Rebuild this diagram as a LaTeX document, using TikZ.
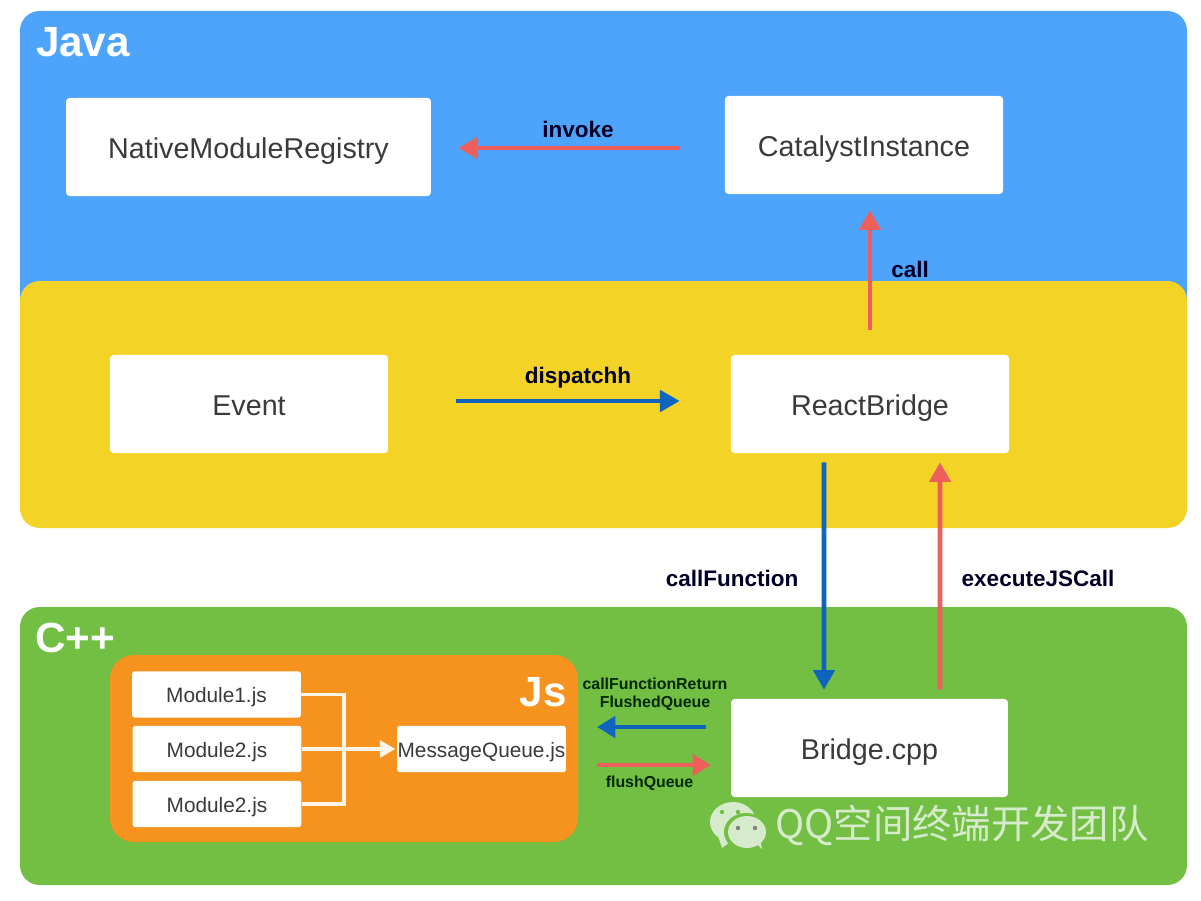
\documentclass[tikz,border=0pt]{standalone}
\usepackage{fontspec}
\setmainfont{Liberation Sans}
\newfontfamily\cjkfont{Noto Sans CJK SC}
\usetikzlibrary{arrows.meta}

\definecolor{javablue}{HTML}{4DA4FA}
\definecolor{bridgeyellow}{HTML}{F4D327}
\definecolor{cppgreen}{HTML}{72BF44}
\definecolor{jsorange}{HTML}{F6921E}
\definecolor{redline}{HTML}{EE5F5B}
\definecolor{blueline}{HTML}{0F65BE}
\definecolor{boxtext}{HTML}{3A3A3A}
\definecolor{markgreen}{HTML}{D6EBCB}

\tikzset{
	panel/.style = {rounded corners=14pt},
	bigbox/.style = {fill=white, rounded corners=2.5pt, inner sep=0pt, text=boxtext, font=\fontsize{20.4}{24}\selectfont, minimum height=2.45cm, text height=17pt, text depth=0pt},
	smallbox/.style = {fill=white, rounded corners=2pt, inner sep=0pt, text=boxtext, font=\fontsize{14.8}{17}\selectfont, minimum width=4.22cm, minimum height=1.16cm, text height=11.5pt, text depth=0pt},
	redarrow/.style = {->, redline, line width=3.3pt},
	bluearrow/.style = {->, blueline, line width=3.3pt},
	whiteline/.style = {draw=white!90!jsorange, line width=2.4pt},
	heading/.style = {white, font=\fontsize{30}{32}\selectfont\bfseries},
	arrowlabel/.style = {text=black!85!blue, font=\fontsize{16}{18}\selectfont\bfseries},
	tinylabel/.style = {text=black!85!green, font=\fontsize{11.3}{12.8}\selectfont\bfseries, align=center},
	>={Triangle[length=14pt,width=15pt]}
}

\begin{document}
\begin{tikzpicture}[x=0.025cm, y=-0.025cm]
	\useasboundingbox (0, 0) rectangle (1201, 900);
	\fill [white] (0, 0) rectangle (1201, 900);
	% panels
	\fill [panel, javablue] (20, 11) rectangle (1187, 320);
	\fill [panel, cppgreen] (20, 607) rectangle (1187, 885);
	\fill [panel, bridgeyellow] (20, 281) rectangle (1187, 528);
	\fill [jsorange, rounded corners=17pt] (110, 655) rectangle (578, 842);
	\node (java) at (83, 42) [heading] {Java};
	\node (cpp) at (75, 638) [heading] {C++};
	\node (js) at (543, 692) [heading] {Js};
	% boxes
	\node (registry) at (248.5, 147) [bigbox, minimum width=9.12cm] {NativeModuleRegistry};
	\node (catalyst) at (864, 145) [bigbox, minimum width=6.95cm] {CatalystInstance};
	\node (event) at (249, 404) [bigbox, minimum width=6.95cm] {Event};
	\node (reactbridge) at (870, 404) [bigbox, minimum width=6.95cm] {ReactBridge};
	\node (bridge) at (869.5, 748) [bigbox, minimum width=6.92cm] {Bridge.cpp};
	\node (moduleA) at (216.5, 694.5) [smallbox] {Module1.js};
	\node (moduleB) at (217, 749) [smallbox] {Module2.js};
	\node (moduleC) at (217, 804) [smallbox] {Module2.js};
	\node (queue) at (481.5, 749) [smallbox] {MessageQueue.js};
	% connectors
	\coordinate (joint) at (344, 749);
	\draw [whiteline] (moduleA.east) -| (joint);
	\draw [whiteline] (moduleC.east) -| (joint);
	\draw [whiteline, ->, >={Triangle[length=11pt,width=12pt]}, shorten >=1pt] (moduleB.east) -- (queue.west);
	\draw [redarrow, shorten <=1.125cm, shorten >=0.675cm] ([yshift=-0.025cm]catalyst.west |- registry.east) -- ([yshift=-0.025cm]registry.east);
	\draw [redarrow, shorten <=0.625cm, shorten >=0.4cm] (reactbridge.north) -- (reactbridge.north |- catalyst.south);
	\draw [bluearrow, shorten <=1.7cm, shorten >=1.275cm] ([yshift=0.075cm]event.east) -- ([yshift=0.075cm]reactbridge.west);
	\draw [bluearrow, shorten <=0.225cm, shorten >=0.225cm] ([xshift=-1.15cm]reactbridge.south) -- ([xshift=-1.137cm]bridge.north);
	\draw [redarrow, shorten <=0.225cm, shorten >=0.225cm] ([xshift=1.763cm]bridge.north) -- ([xshift=1.75cm]reactbridge.south);
	\coordinate (jsedge) at (578, 727);
	\draw [bluearrow, line width=3pt, >={Triangle[length=13pt,width=15pt]}, shorten <=0.625cm, shorten >=0.475cm] (jsedge -| bridge.west) -- (jsedge);
	\coordinate (flushedge) at (578, 765);
	\draw [redarrow, line width=3pt, >={Triangle[length=13pt,width=15pt]}, shorten <=0.475cm, shorten >=0.5cm] (flushedge) -- (flushedge -| bridge.west);
	% labels
	\node (invoke) at (578, 129) [arrowlabel] {invoke};
	\node (call) at (910, 269) [arrowlabel] {call};
	\node (dispatch) at (578, 378) [arrowlabel] {dispatchh};
	\node (callfn) at (732, 578) [arrowlabel] {callFunction};
	\node (execjs) at (1038, 578) [arrowlabel] {executeJSCall};
	\node (returnlabel) at (655, 694) [tinylabel] {callFunctionReturn\\FlushedQueue};
	\node (flushlabel) at (649.5, 783) [tinylabel] {flushQueue};
	% watermark
	\fill [markgreen] (733, 822) ellipse (23 and 20);
	\fill [markgreen] (718, 836) -- (722, 848) -- (735, 838) -- cycle;
	\fill [cppgreen] (746, 832) ellipse (22 and 19);
	\fill [markgreen] (747, 832) ellipse (19 and 16);
	\fill [markgreen] (755, 842) -- (762, 849) -- (760, 838) -- cycle;
	\foreach \dotx/\doty/\dotcolor in {722/812/cppgreen, 738/812/cppgreen, 738/828/black!50, 755/828/black!50}
		\fill [\dotcolor] (\dotx, \doty) circle (2.2);
	\node (mark) at (962, 825) [markgreen, font=\cjkfont\fontsize{28}{32}\selectfont] {QQ空间终端开发团队};
\end{tikzpicture}
\end{document}
